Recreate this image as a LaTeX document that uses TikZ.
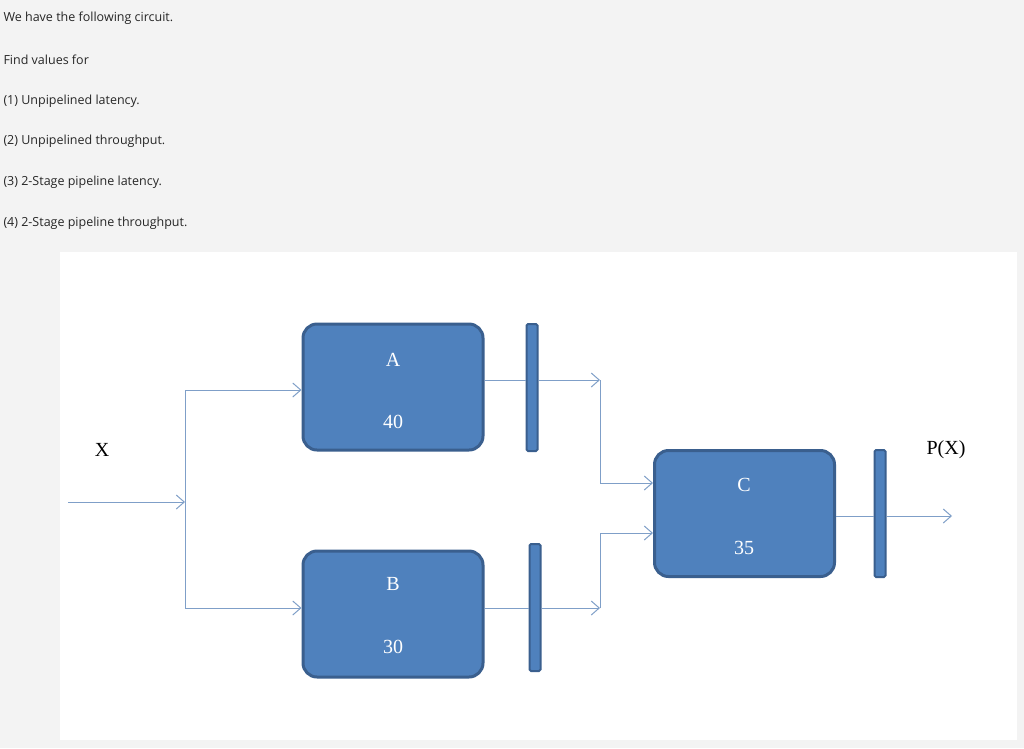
\documentclass[tikz,border=0pt]{standalone}
\usepackage{fontspec}
\setmainfont{Open Sans}
\newfontfamily\tnr{Liberation Serif}
\usetikzlibrary{arrows.meta}
\definecolor{bg}{HTML}{F3F3F3}
\definecolor{fillb}{HTML}{4F81BD}
\definecolor{edgeb}{HTML}{3A5F8E}
\definecolor{wire}{HTML}{7F9FC8}
\tikzset{
 blk/.style={draw=edgeb,line width=3pt,fill=fillb,rounded corners=14pt,minimum width=180pt,minimum height=126pt,inner sep=0pt},
 reg/.style={draw=edgeb,line width=2pt,fill=fillb,rounded corners=1.5pt,minimum width=11pt,inner sep=0pt},
 wr/.style={draw=wire,line width=1pt},
 arr/.style={wr,-{Straight Barb[length=8pt,width=14pt,line width=1pt]}},
 qtext/.style={anchor=west,font=\fontsize{12.5pt}{14pt}\selectfont,text=black!85},
 lbl/.style={font=\tnr\fontsize{20pt}{22pt}\selectfont,text=white},
 olbl/.style={font=\tnr\fontsize{20pt}{22pt}\selectfont}
}
\begin{document}
\begin{tikzpicture}[x=1pt,y=-1pt]
\fill[bg] (0,0) rectangle (1024,748);
\fill[white] (60,252) rectangle (1017,740);
\useasboundingbox (0,0) rectangle (1024,748);
\node[qtext] (t1) at (0,18) {We have the following circuit.};
\node[qtext] (t2) at (0,60) {Find values for};
\node[qtext] (t3) at (0,101) {(1) Unpipelined latency.};
\node[qtext] (t4) at (0,141) {(2) Unpipelined throughput.};
\node[qtext] (t5) at (0,182) {(3) 2-Stage pipeline latency.};
\node[qtext] (t6) at (0,223) {(4) 2-Stage pipeline throughput.};
\node[blk] (A) at (393,387) {};
\node[blk] (B) at (393,614) {};
\node[blk] (C) at (744.5,513.5) {};
\node[lbl] (Al) at (393,360) {A};
\node[lbl] (An) at (393,422) {40};
\node[lbl] (Bl) at (393,584) {B};
\node[lbl] (Bn) at (393,647) {30};
\node[lbl] (Cl) at (744,485) {C};
\node[lbl] (Cn) at (744,548) {35};
\node[reg,minimum height=127pt] (RA) at (532,387.5) {};
\node[reg,minimum height=127pt] (RB) at (535,607.5) {};
\node[reg,minimum height=127pt] (RC) at (880,513.5) {};
\node[olbl] (X) at (102,450) {X};
\node[olbl] (PX) at (946,450) {P(X)};
\coordinate (xin) at (68,502);
\coordinate (sp) at (185,502);
\coordinate (a1) at (600,380);
\coordinate (b1) at (600,608);
\coordinate (out) at (952,516);
\draw[arr] (xin) -- (sp);
\draw[wr] (185,390) -- (185,608);
\draw[arr] (185,390) -- (A.west|-0,390);
\draw[arr] (185,608) -- (B.west|-0,608);
\draw[wr] (A.east|-0,380) -- (RA.west|-0,380);
\draw[arr] (RA.east|-0,380) -- (a1);
\draw[wr] (B.east|-0,608) -- (RB.west|-0,608);
\draw[arr] (RB.east|-0,608) -- (b1);
\draw[wr] (a1) -- (600,483);
\draw[arr] (600,483) -- (C.west|-0,483);
\draw[wr] (b1) -- (600,533);
\draw[arr] (600,533) -- (C.west|-0,533);
\draw[wr] (C.east|-0,516) -- (RC.west|-0,516);
\draw[arr] (RC.east|-0,516) -- (out);
\end{tikzpicture}
\end{document}
